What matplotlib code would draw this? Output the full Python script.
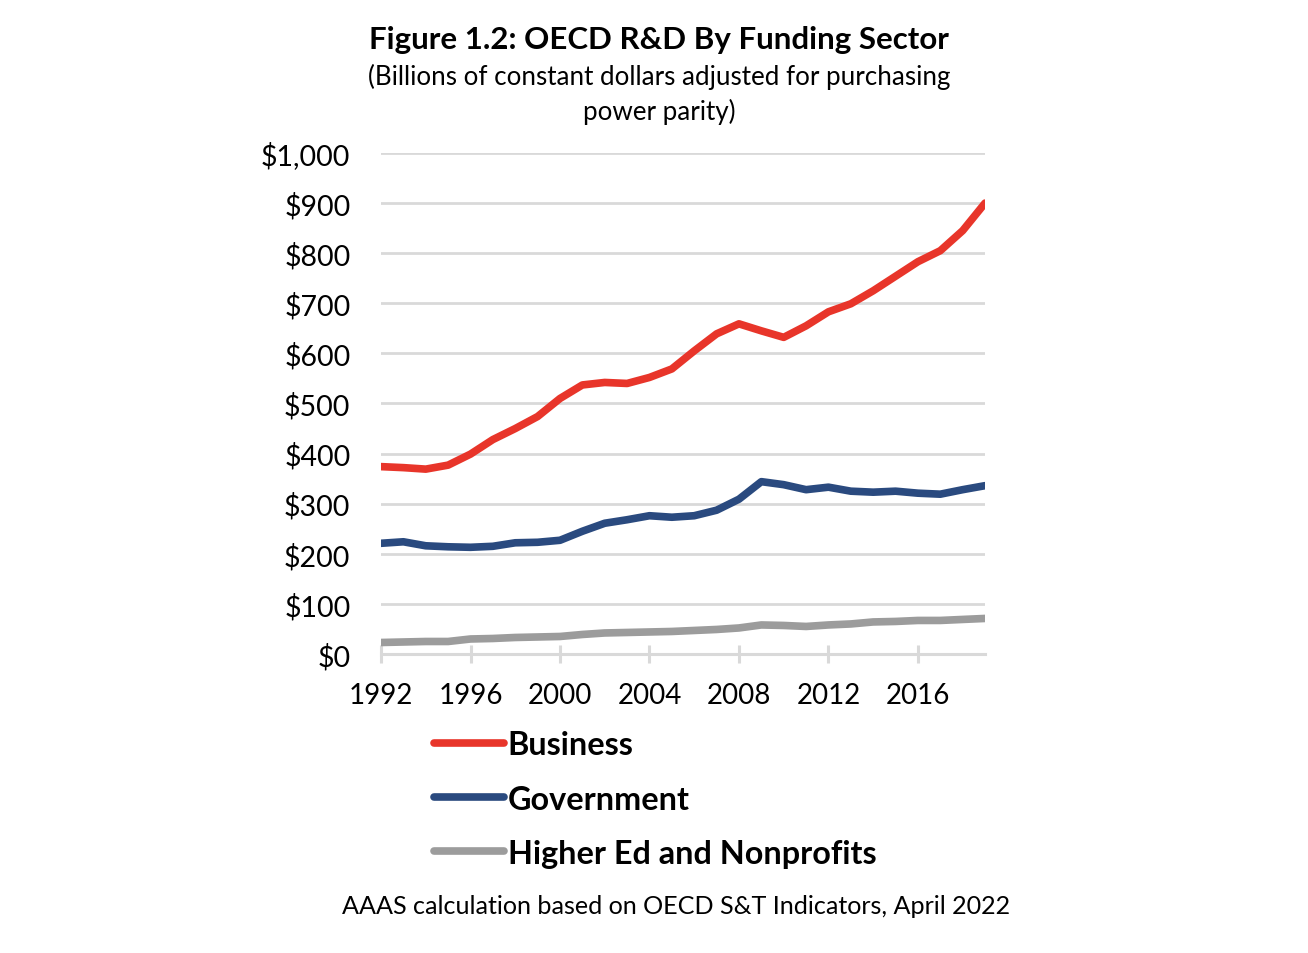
import numpy as np
import matplotlib.pyplot as plt
from matplotlib.ticker import FuncFormatter

plt.rcParams["font.family"] = ["Lato", "DejaVu Sans"]

years = list(range(1992, 2020))
business = [374, 372, 369, 377, 399, 428, 450, 474, 510, 537, 542, 540, 552, 569,
            605, 639, 659, 645, 632, 655, 683, 699, 725, 754, 783, 805, 845, 900]
government = [221, 224, 216, 214, 213, 215, 222, 223, 227, 245, 261, 268, 276, 273,
              276, 287, 309, 344, 338, 328, 333, 325, 323, 325, 321, 319, 328, 336]
higher_ed = [23, 24, 25, 25, 30, 31, 33, 34, 35, 39, 42, 43, 44, 45,
             47, 49, 52, 58, 57, 55, 58, 60, 64, 65, 67, 67, 69, 71]

series_names = ["Business", "Government", "Higher Ed and Nonprofits"]
colors = ["#e8352a", "#2a4a7f", "#9c9c9c"]

fig = plt.figure(figsize=(13.08, 9.54), dpi=100)
ax = fig.add_axes([0.2913, 0.3134, 0.4618, 0.5252])

for vals, name, c in zip([business, government, higher_ed], series_names, colors):
    ax.plot(years, vals, color=c, lw=5.5, label=name, solid_capstyle="round", solid_joinstyle="round")

ax.set_xlim(1992, 2019)
ax.set_ylim(0, 1000)
ax.set_yticks(np.arange(0, 1001, 100))
ax.yaxis.set_major_formatter(FuncFormatter(lambda v, p: "${:,.0f}".format(v)))
ax.set_xticks(range(1992, 2017, 4))

ax.grid(axis="y", color="#d9d9d9", lw=2)
ax.set_axisbelow(True)
for s in ["top", "right", "left"]:
    ax.spines[s].set_visible(False)
ax.spines["bottom"].set_color("#d9d9d9")
ax.spines["bottom"].set_linewidth(2.2)
ax.spines["bottom"].set_zorder(1)

ax.tick_params(axis="y", length=0, pad=22, labelsize=20.5)
ax.tick_params(axis="x", direction="inout", length=13, width=2.2, color="#d9d9d9",
               pad=14, labelsize=20)

fig.text(0.504, 0.958, "Figure 1.2: OECD R&D By Funding Sector", ha="center", va="center",
         fontsize=22.5, fontweight="bold")
fig.text(0.504, 0.919, "(Billions of constant dollars adjusted for purchasing", ha="center",
         va="center", fontsize=18.7)
fig.text(0.504, 0.883, "power parity)", ha="center", va="center", fontsize=18.7)

leg = ax.legend(loc="upper left", bbox_to_anchor=(0.322, 0.247), bbox_transform=fig.transFigure,
                frameon=False, fontsize=23.3, handlelength=2.15, handletextpad=0.12,
                labelspacing=0.78, borderaxespad=0)
for t in leg.get_texts():
    t.set_fontweight("bold")

fig.text(0.517, 0.05, "AAAS calculation based on OECD S&T Indicators, April 2022", ha="center",
         va="center", fontsize=18.1)

fig.savefig("out.png", dpi=100)
